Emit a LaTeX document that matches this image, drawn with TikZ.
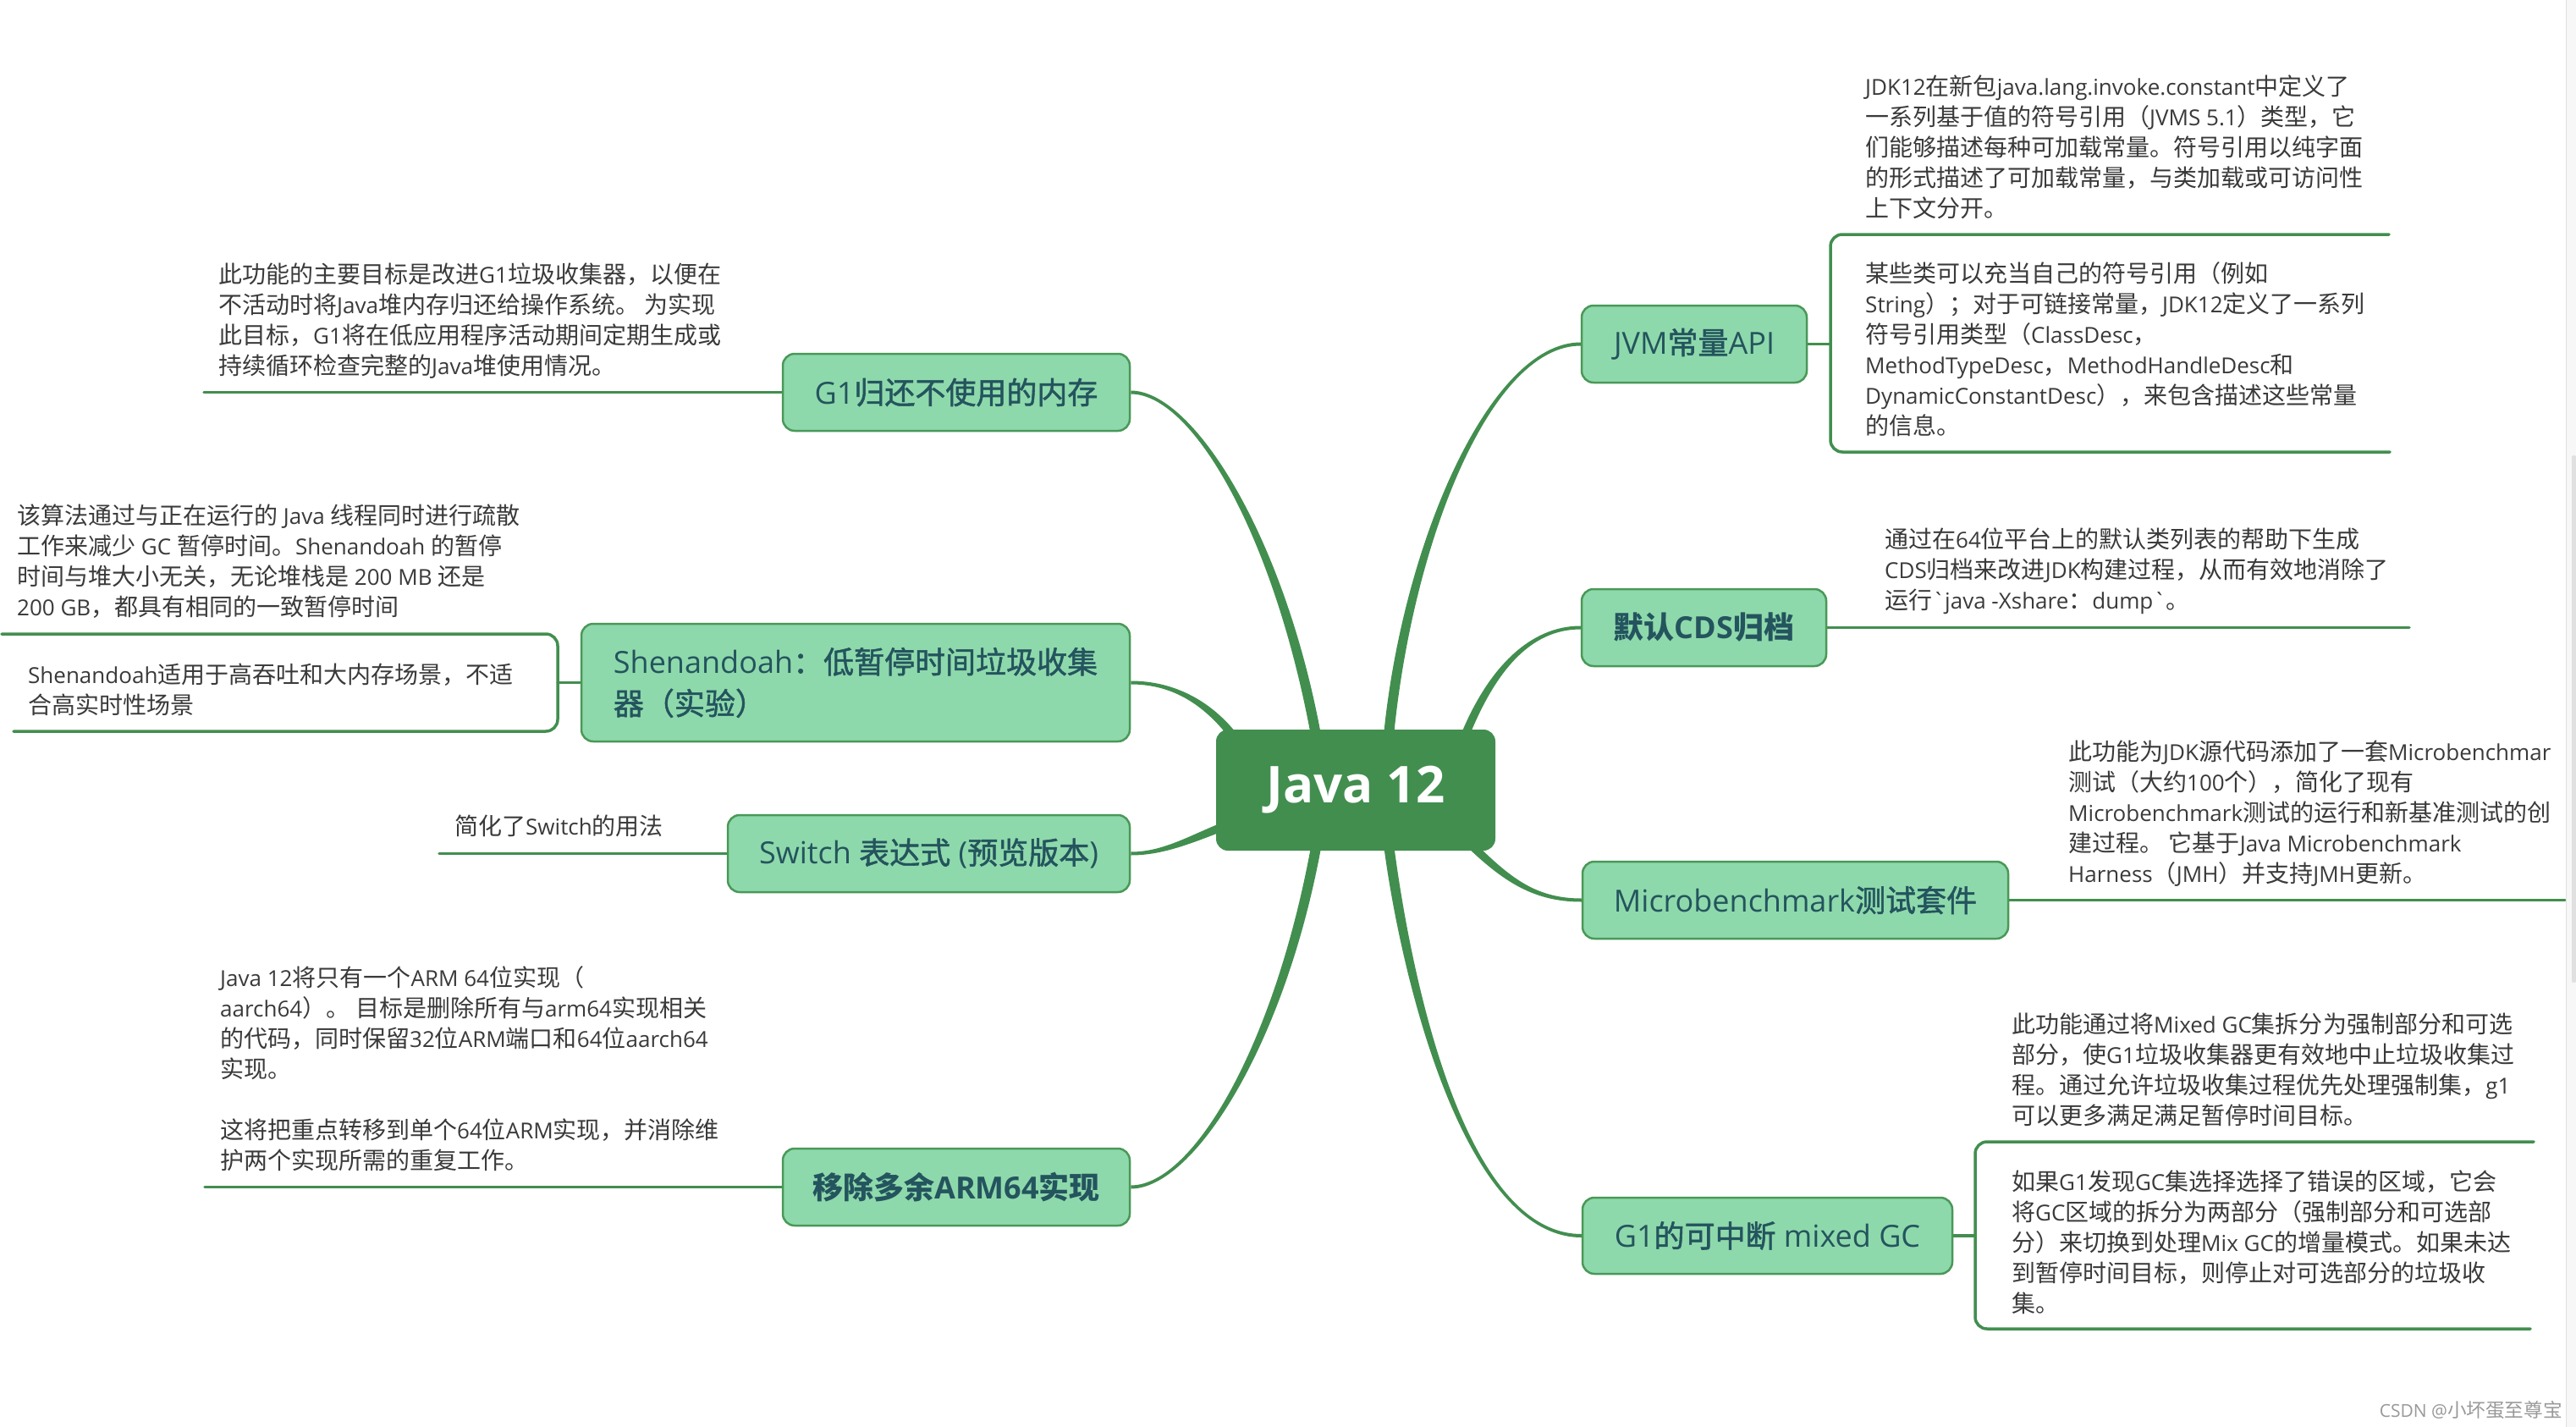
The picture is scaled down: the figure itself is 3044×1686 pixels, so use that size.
\documentclass[tikz,border=0pt]{standalone}
\usepackage{fontspec}
\usetikzlibrary{calc}
\newfontfamily\latinfam{Open Sans}
\newfontfamily\cjkbodyfam{Noto Sans CJK SC}[Scale=1.077]
\newfontfamily\cjkmedfam{Noto Sans CJK SC}[FakeBold=1.5]
\newfontfamily\cjkboldfam{Noto Sans CJK SC}
\newcommand\cjkswitch{\cjkbodyfam}
\newcommand\latinswitch{\latinfam}
\XeTeXinterchartokenstate=1
\newXeTeXintercharclass\mycjkclass
\makeatletter
\@tempcnta="2E80
\loop\ifnum\@tempcnta<"A000 \XeTeXcharclass\@tempcnta=\mycjkclass \advance\@tempcnta\@ne\repeat
\@tempcnta="FF00
\loop\ifnum\@tempcnta<"FF66 \XeTeXcharclass\@tempcnta=\mycjkclass \advance\@tempcnta\@ne\repeat
\makeatother
\XeTeXinterchartoks 0 \mycjkclass={\cjkswitch}
\XeTeXinterchartoks 4095 \mycjkclass={\cjkswitch}
\XeTeXinterchartoks \mycjkclass 0={\latinswitch}
\XeTeXinterchartoks \mycjkclass 4095={\latinswitch}

\definecolor{lg}{HTML}{428E4F}
\definecolor{nfill}{HTML}{8ED9AB}
\definecolor{ndraw}{HTML}{4A9858}
\definecolor{ntext}{HTML}{24545E}
\definecolor{btext}{HTML}{3A3A3A}

\newcommand\bodyfont{\fontsize{26}{36}\selectfont\latinfam}
\newcommand\nodefont{\fontsize{36}{49}\selectfont\def\cjkswitch{\cjkmedfam\mdseries}\def\latinswitch{\latinfam\mdseries}\latinfam}
\newcommand\nodefontb{\fontsize{36}{49}\selectfont\def\cjkswitch{\cjkboldfam\bfseries}\def\latinswitch{\latinfam\bfseries}\latinfam\bfseries}
\newcommand\fl{\rule{0pt}{26pt}}

\pgfdeclarelayer{bg}
\pgfsetlayers{bg,main}

\newcommand\taper[6]{%
  \coordinate (tpA) at #1; \coordinate (tpB) at #2;
  \coordinate (tpC) at #3; \coordinate (tpD) at #4;
  \fill[lg] ($(tpA)!#5!90:(tpB)$) .. controls ($(tpB)!#5!-90:(tpA)$) and ($(tpC)!#6!90:(tpD)$) .. ($(tpD)!#6!-90:(tpC)$)
    -- ($(tpD)!#6!90:(tpC)$) .. controls ($(tpC)!#6!-90:(tpD)$) and ($(tpB)!#5!90:(tpA)$) .. ($(tpA)!#5!-90:(tpB)$) -- cycle;}

\begin{document}
\begin{tikzpicture}[x=1pt,y=-1pt,
  rootbox/.style={fill=lg, rounded corners=14, minimum width=330, minimum height=143, inner sep=0, text=white, font=\fontsize{60}{70}\selectfont\latinfam\bfseries},
  branch/.style={fill=nfill, draw=ndraw, line width=2.5, rounded corners=14, inner sep=0, text=ntext, font=\nodefont, minimum height=91},
  branchb/.style={branch, font=\nodefontb},
  txt/.style={anchor=north west, inner sep=0, align=left, text=btext, font=\bodyfont},
  ul/.style={draw=lg, line width=3.5, line cap=round}]
\useasboundingbox (0,0) rectangle (3044,1686);
\begin{pgfonlayer}{bg}
\fill[white] (0,0) rectangle (3044,1686);
\end{pgfonlayer}

% scroll bar edge
\fill[black!3] (3032,0) rectangle (3044,1686);
\draw[black!12, line width=1] (3032,0) -- (3032,1686);
\fill[black!12, rounded corners=2] (3039,538) rectangle (3044,1161);

% central node
\node[rootbox] (root) at (1602,933.5) {Java 12};

% left branches
\node[branch, minimum width=410] (g1ret) at (1130,463.5) {G1归还不使用的内存};
\node[branch, minimum width=648, minimum height=139, align=left] (shen) at (1011,806.5) {Shenandoah：低暂停时间垃圾收集\\器（实验）};
\node[branch, minimum width=475] (switch) at (1097.5,1008.5) {Switch 表达式 (预览版本)};
\node[branchb, minimum width=410] (arm) at (1130,1402.5) {移除多余ARM64实现};

% right branches
\node[branch, minimum width=266] (jvm) at (2002,406.5) {JVM常量API};
\node[branchb, minimum width=289] (cds) at (2013.5,741.5) {默认CDS归档};
\node[branch, minimum width=503] (micro) at (2121.5,1063.5) {Microbenchmark测试套件};
\node[branch, minimum width=437, minimum height=90] (mixed) at (2088.5,1460) {G1的可中断 mixed GC};

% texts
\node[txt] (tG1) at (258,308.5) {\fl 此功能的主要目标是改进G1垃圾收集器，以便在\\不活动时将Java堆内存归还给操作系统。 为实现\\此目标，G1将在低应用程序活动期间定期生成或\\持续循环检查完整的Java堆使用情况。};
\node[txt] (tSh1) at (20,593.5) {\fl 该算法通过与正在运行的 Java 线程同时进行疏散\\工作来减少 GC 暂停时间。Shenandoah 的暂停\\时间与堆大小无关，无论堆栈是 200 MB 还是\\200 GB，都具有相同的一致暂停时间};
\node[txt] (tSh2) at (33,781.5) {\fl Shenandoah适用于高吞吐和大内存场景，不适\\合高实时性场景};
\node[txt] (tSw) at (537,960.5) {\fl 简化了Switch的用法};
\node[txt] (tArm) at (260,1139.5) {\fl Java 12将只有一个ARM 64位实现（\\aarch64）。 目标是删除所有与arm64实现相关\\的代码，同时保留32位ARM端口和64位aarch64\\实现。\\[36pt]这将把重点转移到单个64位ARM实现，并消除维\\护两个实现所需的重复工作。};
\node[txt] (tJ1) at (2204,86.5) {\fl JDK12在新包java.lang.invoke.constant中定义了\\一系列基于值的符号引用（JVMS 5.1）类型，它\\们能够描述每种可加载常量。符号引用以纯字面\\的形式描述了可加载常量，与类加载或可访问性\\上下文分开。};
\node[txt] (tJ2) at (2204,307.5) {\fl 某些类可以充当自己的符号引用（例如\\String）；对于可链接常量，JDK12定义了一系列\\符号引用类型（ClassDesc，\\MethodTypeDesc，MethodHandleDesc和\\DynamicConstantDesc），来包含描述这些常量\\的信息。};
\node[txt] (tCds) at (2227,621.5) {\fl 通过在64位平台上的默认类列表的帮助下生成\\CDS归档来改进JDK构建过程，从而有效地消除了\\运行`java -Xshare：dump`。};
\node[txt] (tMic) at (2444,872.5) {\fl 此功能为JDK源代码添加了一套Microbenchmar\\测试（大约100个），简化了现有\\Microbenchmark测试的运行和新基准测试的创\\建过程。 它基于Java Microbenchmark\\Harness（JMH）并支持JMH更新。};
\node[txt] (tMx1) at (2377,1194.5) {\fl 此功能通过将Mixed GC集拆分为强制部分和可选\\部分，使G1垃圾收集器更有效地中止垃圾收集过\\程。通过允许垃圾收集过程优先处理强制集，g1\\可以更多满足满足暂停时间目标。};
\node[txt] (tMx2) at (2377,1380.5) {\fl 如果G1发现GC集选择选择了错误的区域，它会\\将GC区域的拆分为两部分（强制部分和可选部\\分）来切换到处理Mix GC的增量模式。如果未达\\到暂停时间目标，则停止对可选部分的垃圾收\\集。};

% watermark
\node[anchor=east, inner sep=0, text=black!40, font=\fontsize{21}{25}\selectfont\latinfam] (wm) at (3028,1666) {CSDN @小坏蛋至尊宝};

% line end coordinates
\coordinate (uG1) at (241,463.5);
\coordinate (bS) at (659,806.5);
\coordinate (uSh1) at (2,749);
\coordinate (uSh2) at (16,864);
\coordinate (uSw) at (519,1008.5);
\coordinate (uArm) at (242,1402.5);
\coordinate (bJ) at (2163,406.5);
\coordinate (uJ1) at (2823,277);
\coordinate (uJ2) at (2824,534);
\coordinate (uCds) at (2847,741.5);
\coordinate (uMic) at (3031,1063.5);
\coordinate (bM) at (2334,1460);
\coordinate (uM1) at (2994,1349);
\coordinate (uM2) at (2990,1570);

\begin{pgfonlayer}{bg}
% child connectors
\draw[ul] (uG1) -- (g1ret.west);
\draw[ul] (shen.west) -- (bS);
\draw[ul, rounded corners=14] (uSh1) -- (uSh1 -| bS) -- (uSh2 -| bS) -- (uSh2);
\draw[ul] (uSw) -- (switch.west);
\draw[ul] (uArm) -- (arm.west);
\draw[ul] (jvm.east) -- (bJ);
\draw[ul, rounded corners=14] (uJ1) -- (uJ1 -| bJ) -- (uJ2 -| bJ) -- (uJ2);
\draw[ul] (cds.east) -- (uCds);
\draw[ul] (micro.east) -- (uMic);
\draw[ul] (mixed.east) -- (bM);
\draw[ul, rounded corners=14] (uM1) -- (uM1 -| bM) -- (uM2 -| bM) -- (uM2);

% main tapered connectors
\taper{($(root.north)+(-45,18)$)}{(1515,640)}{($(g1ret.east)+(75,0)$)}{(g1ret.east)}{6pt}{2pt}
\taper{($(root.north)+(-137,18)$)}{(1430,830)}{($(shen.east)+(50,0)$)}{(shen.east)}{5pt}{2pt}
\taper{($(root.west)+(18,39.5)$)}{(1410,990)}{($(switch.east)+(40,0)$)}{(switch.east)}{5pt}{2pt}
\taper{($(root.south)+(-45,-15)$)}{(1515,1230)}{($(arm.east)+(75,0)$)}{(arm.east)}{6pt}{2pt}
\taper{($(root.north)+(38,18)$)}{(1660,650)}{($(jvm.west)+(-109,0)$)}{(jvm.west)}{6pt}{2pt}
\taper{($(root.north)+(123,23)$)}{(1760,790)}{($(cds.west)+(-59,0)$)}{(cds.west)}{5pt}{2pt}
\taper{($(root.south)+(123,-20)$)}{(1775,1035)}{($(micro.west)+(-60,0)$)}{(micro.west)}{5pt}{2pt}
\taper{($(root.south)+(38,-15)$)}{(1660,1150)}{($(mixed.west)+(-140,0)$)}{(mixed.west)}{6pt}{2pt}
\end{pgfonlayer}
\end{tikzpicture}
\end{document}
